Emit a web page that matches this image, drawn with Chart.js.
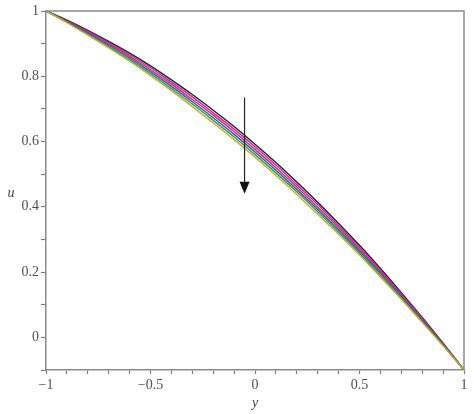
<!DOCTYPE html>
<html>
<head>
<meta charset="utf-8">
<script src="https://cdn.jsdelivr.net/npm/chart.js@4/dist/chart.umd.min.js"></script>
<style>
html,body{margin:0;padding:0;background:#fff;}
#wrap{width:474px;height:414px;position:relative;}
</style>
</head>
<body>
<div id="wrap"><canvas id="c" width="474" height="414"></canvas></div>
<script>
const yCoord = [-1,-0.9,-0.8,-0.7,-0.6,-0.5,-0.4,-0.3,-0.2,-0.1,0,0.1,0.2,0.3,0.4,0.5,0.6,0.7,0.8,0.9,1];
const u1 = [1,0.972,0.941,0.907,0.871,0.832,0.789,0.744,0.696,0.646,0.592,0.536,0.476,0.414,0.349,0.282,0.211,0.137,0.061,-0.018,-0.1];
const u2 = [1,0.970,0.938,0.903,0.866,0.826,0.782,0.737,0.688,0.638,0.584,0.528,0.468,0.407,0.342,0.276,0.206,0.133,0.058,-0.020,-0.1];
const u3 = [1,0.969,0.935,0.899,0.861,0.820,0.776,0.729,0.681,0.630,0.576,0.520,0.461,0.399,0.336,0.270,0.201,0.129,0.055,-0.021,-0.1];
const u4 = [1,0.967,0.932,0.895,0.856,0.814,0.769,0.722,0.673,0.622,0.568,0.512,0.453,0.392,0.329,0.264,0.196,0.125,0.052,-0.023,-0.1];
const u5 = [1,0.966,0.929,0.891,0.851,0.808,0.762,0.715,0.665,0.614,0.560,0.504,0.446,0.385,0.322,0.258,0.190,0.121,0.049,-0.024,-0.1];
const u6 = [1,0.964,0.926,0.887,0.846,0.802,0.756,0.707,0.657,0.606,0.552,0.496,0.438,0.377,0.316,0.252,0.185,0.117,0.046,-0.026,-0.1];
const seriesColors = ['#202020','#c020c0','#d03040','#3050d0','#30a040','#c8a830'];
const xTickLabels = {'-1':'\u22121','-0.5':'\u22120.5','0':'0','0.5':'0.5','1':'1'};
const yTickLabels = {'0':'0','0.2':'0.2','0.4':'0.4','0.6':'0.6','0.8':'0.8','1':'1'};
const arrowX = -0.05, arrowFrom = 0.735, arrowTo = 0.44;

const all = [u1,u2,u3,u4,u5,u6];
const datasets = all.map((arr,i)=>({
  data: arr.map((v,j)=>({x:yCoord[j], y:v})),
  borderColor: seriesColors[i],
  borderWidth: 1.4,
  pointRadius: 0,
  fill: false,
  cubicInterpolationMode: 'monotone'
})).reverse();

const key = v => String(Math.round(v*10)/10);

const extras = {
  id:'extras',
  afterDraw(chart){
    const {ctx, chartArea:a, scales:{x,y}} = chart;
    ctx.save();
    ctx.strokeStyle = '#8a8a8a';
    ctx.lineWidth = 1.5;
    ctx.beginPath();
    ctx.moveTo(a.left, a.top); ctx.lineTo(a.right, a.top); ctx.lineTo(a.right, a.bottom);
    ctx.stroke();
    // arrow
    const px = x.getPixelForValue(arrowX);
    const p0 = y.getPixelForValue(arrowFrom);
    const p1 = y.getPixelForValue(arrowTo);
    ctx.strokeStyle = '#222';
    ctx.fillStyle = '#111';
    ctx.lineWidth = 1.2;
    ctx.beginPath(); ctx.moveTo(px,p0); ctx.lineTo(px,p1-10); ctx.stroke();
    ctx.beginPath(); ctx.moveTo(px-5,p1-12); ctx.lineTo(px+5,p1-12); ctx.lineTo(px,p1); ctx.closePath(); ctx.fill();
    // axis titles
    ctx.fillStyle = '#444';
    ctx.font = 'italic 14px "Liberation Serif"';
    ctx.textAlign = 'center'; ctx.textBaseline = 'middle';
    ctx.fillText('u', 11, y.getPixelForValue(0.44));
    ctx.fillText('y', x.getPixelForValue(0), 403);
    ctx.restore();
  }
};

new Chart(document.getElementById('c'), {
  type:'line',
  data:{datasets},
  options:{
    responsive:false,
    animation:false,
    events:[],
    layout:{padding:{top:11,right:10,left:0,bottom:0}},
    plugins:{legend:{display:false}, tooltip:{enabled:false}},
    scales:{
      x:{
        type:'linear', min:-1, max:1,
        afterFit(s){ s.height = 44; },
        grid:{display:true, drawOnChartArea:false, drawTicks:true, tickLength:4, tickColor:'#7a7a7a', tickWidth:1.2},
        border:{display:true, color:'#8a8a8a', width:1.5},
        ticks:{stepSize:0.1, autoSkip:false, maxRotation:0, padding:3,
          color:'#505050', font:{family:'"Liberation Serif"', size:14},
          callback:v=> xTickLabels[key(v)] ?? ''}
      },
      y:{
        type:'linear', min:-0.1, max:1,
        afterFit(s){ s.width = 46; },
        grid:{display:true, drawOnChartArea:false, drawTicks:true, tickLength:5, tickColor:'#7a7a7a', tickWidth:1.2},
        border:{display:true, color:'#8a8a8a', width:1.5},
        ticks:{stepSize:0.1, autoSkip:false, padding:2,
          color:'#505050', font:{family:'"Liberation Serif"', size:14},
          callback:v=> yTickLabels[key(v)] ?? ''}
      }
    }
  },
  plugins:[extras]
});
</script>
</body>
</html>
